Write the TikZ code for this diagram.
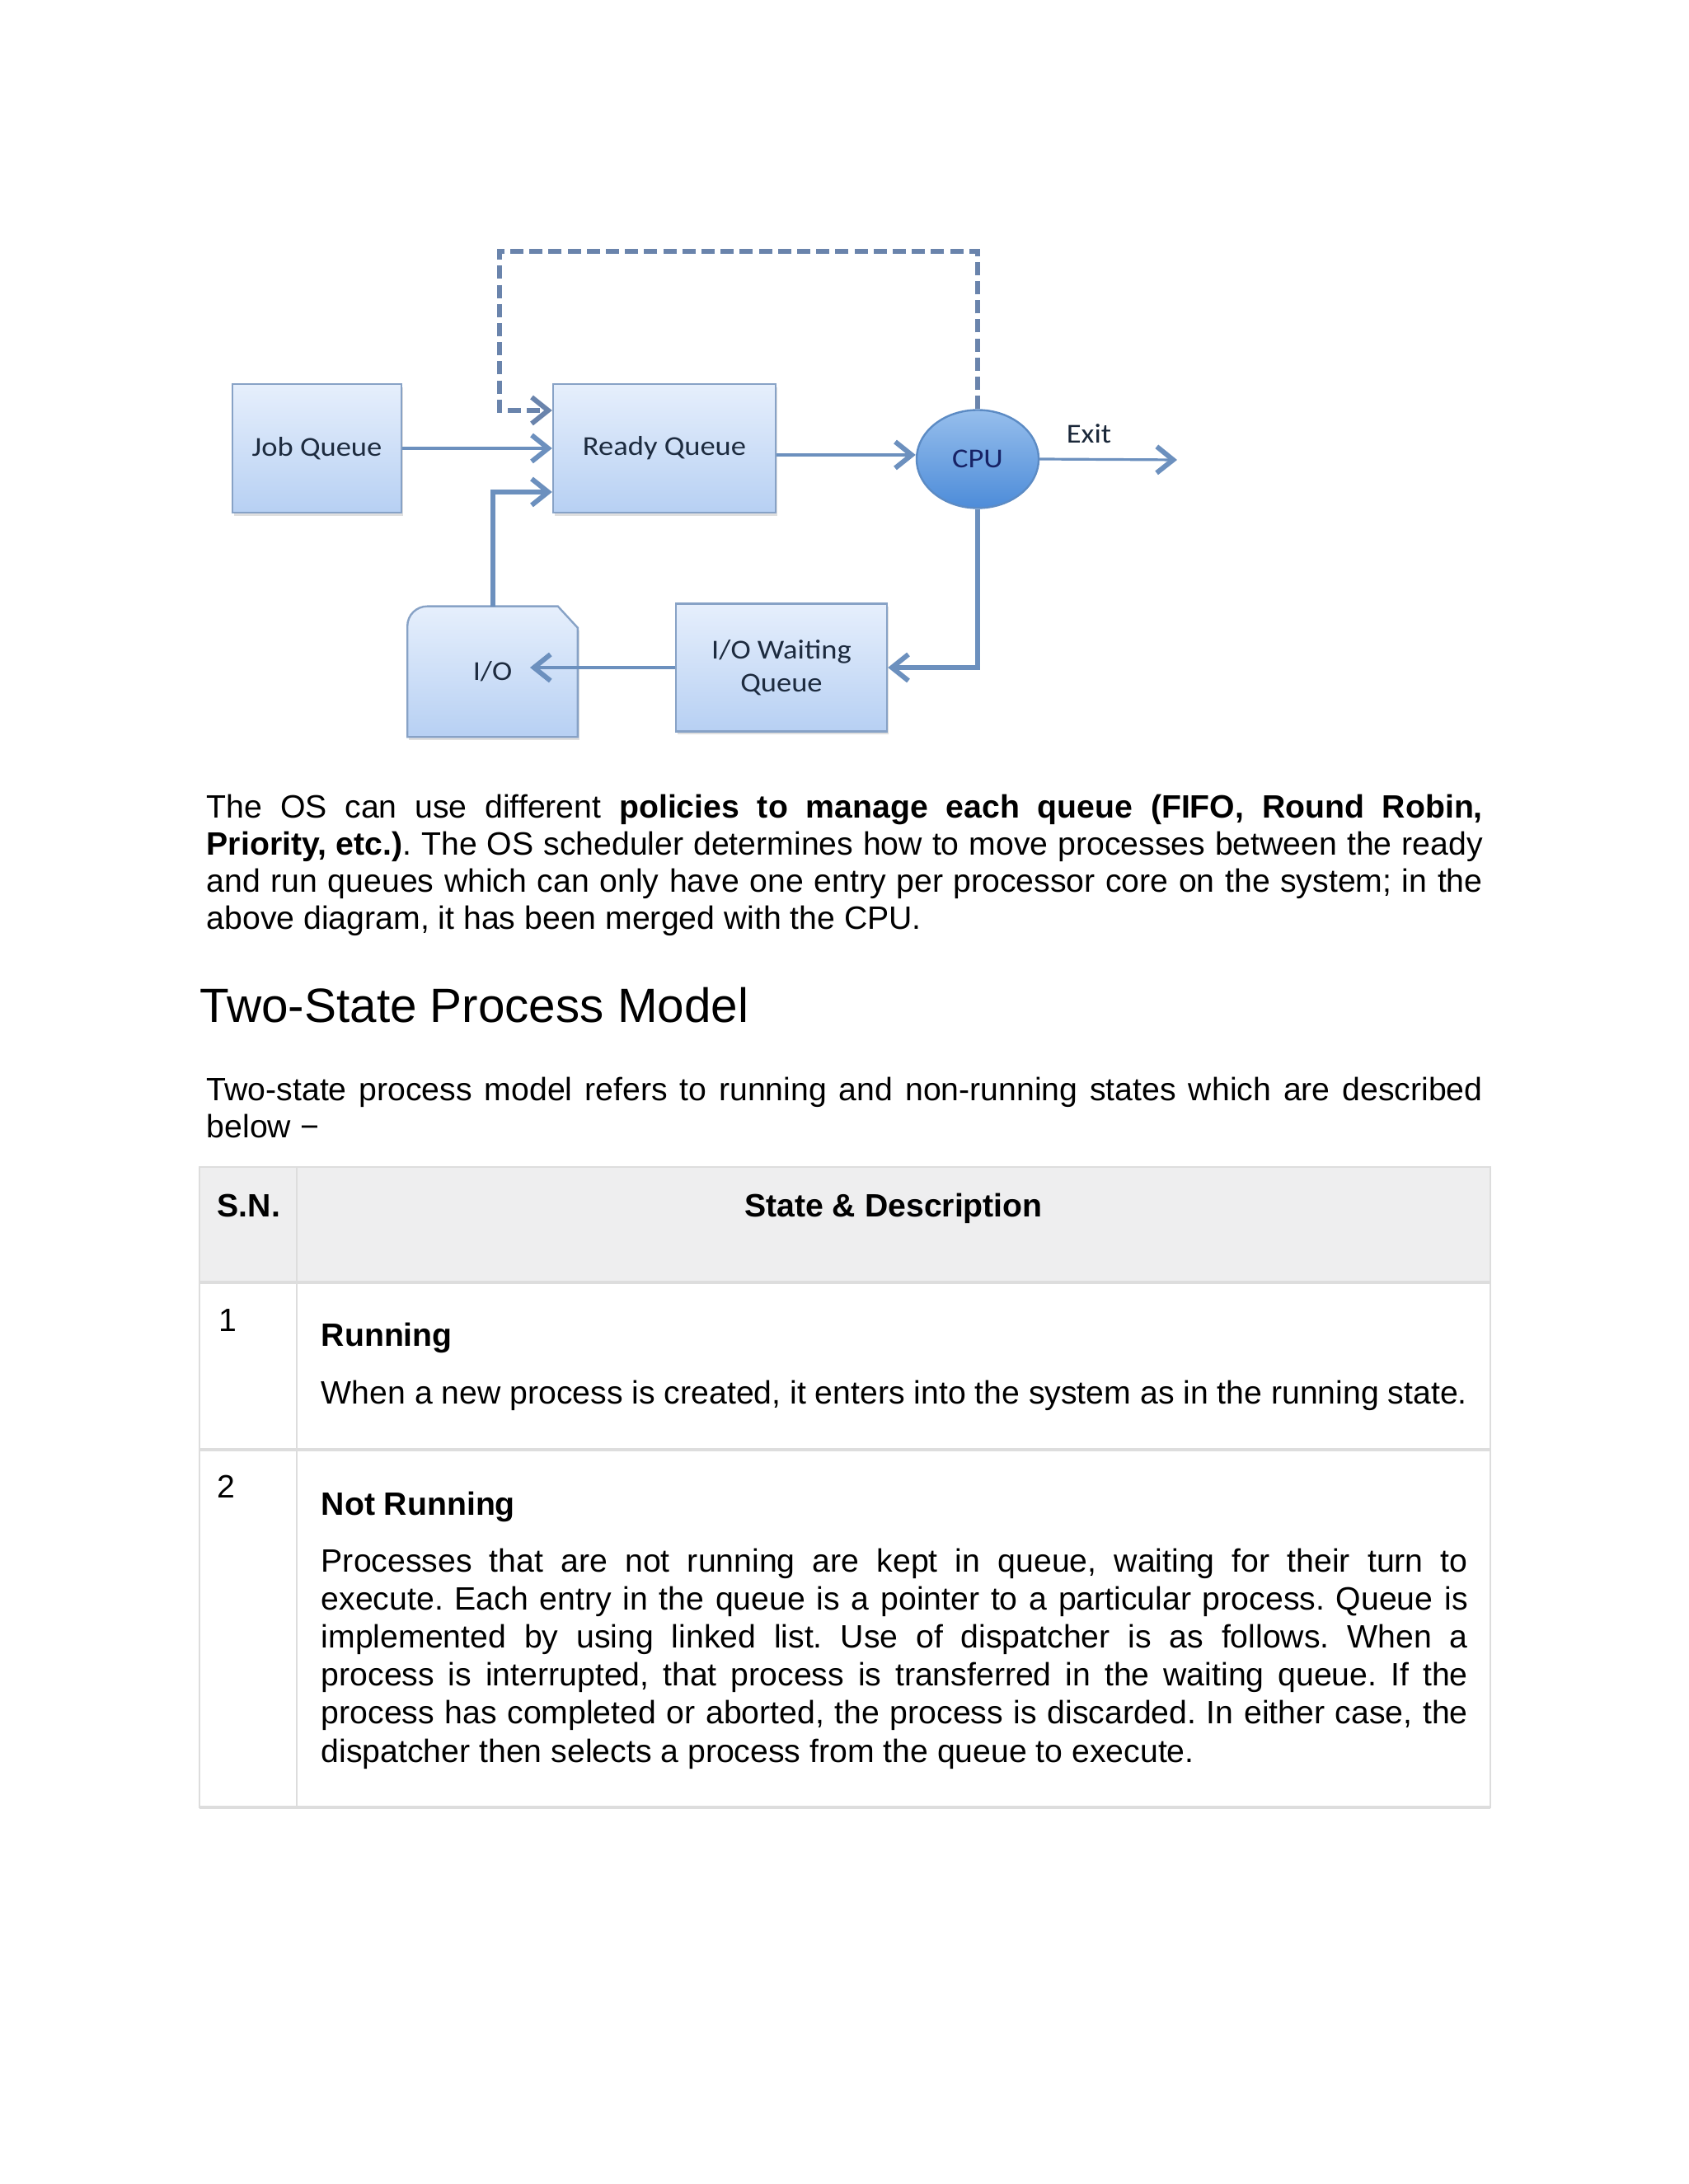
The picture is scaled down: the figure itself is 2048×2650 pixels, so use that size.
\documentclass[tikz,border=0pt]{standalone}
\usepackage{fontspec}
\setmainfont{Liberation Sans}
\newfontfamily\diagfont[FakeStretch=1.1]{Carlito}
\usetikzlibrary{arrows.meta,shapes.geometric,shadows,calc,backgrounds}
\definecolor{flow}{HTML}{6C90BE}
\definecolor{flowdash}{HTML}{6A84AC}
\definecolor{boxtop}{HTML}{E6EFFC}
\definecolor{boxbot}{HTML}{B7D0F3}
\definecolor{boxline}{HTML}{87A2C6}
\definecolor{boxtext}{HTML}{1D2B3F}
\definecolor{cputop}{HTML}{96BEEC}
\definecolor{cpubot}{HTML}{4D8CD9}
\definecolor{cpuline}{HTML}{5C8BC4}
\definecolor{headfill}{HTML}{EEEEEF}
\definecolor{rule}{HTML}{DDDDDD}
\hyphenpenalty=10000
\exhyphenpenalty=10000
\frenchspacing

\begin{document}
\begin{tikzpicture}[x=0.25pt,y=-0.25pt,
		qbox/.style={rectangle, draw=boxline, line width=0.6pt, top color=boxtop, bottom color=boxbot,
			font=\diagfont\fontsize{8.3}{10}\selectfont, text=boxtext, align=center, inner sep=0pt,
			drop shadow={shadow xshift=0.5pt, shadow yshift=-0.9pt, opacity=0.25}},
		cpunode/.style={ellipse, draw=cpuline, line width=0.6pt, top color=cputop, bottom color=cpubot,
			font=\diagfont\fontsize{8.3}{10}\selectfont, text=boxtext!80!blue, inner sep=0pt,
			minimum width=37pt, minimum height=29.75pt},
		flowtip/.tip={Straight Barb[length=5pt,width=8pt,line width=1.5pt]},
		thin/.style={draw=flow, line width=0.8pt, -flowtip},
		thick/.style={draw=flow, line width=1.5pt, -flowtip},
		loop/.style={draw=flowdash, line width=1.3pt, dash pattern=on 4pt off 1.8pt, -flowtip},
		body/.style={inner sep=0pt, text=black, font=\fontsize{9.8}{11.25}\selectfont},
		cell/.style={inner sep=0pt, text=black, font=\fontsize{9.8}{11.55}\selectfont}
	]
	\useasboundingbox (0,0) rectangle (2048,2650);

	% scheduling diagram
	\node[qbox, minimum width=51.25pt, minimum height=39pt] (job) at (384.5,544) {Job Queue};
	\node[qbox, minimum width=67.5pt, minimum height=39pt] (ready) at (806,544) {Ready Queue};
	\node[cpunode] (cpu) at (1186,557) {CPU};
	\node[qbox, minimum width=64pt, minimum height=38.75pt] (iowait) at (948,810) {I/O Waiting\\Queue};
	\node[inner sep=0pt, minimum width=51.25pt, minimum height=39.25pt,
		font=\diagfont\fontsize{8.3}{10}\selectfont, text=boxtext] (io) at (597.5,815) {I/O};
	\begin{scope}[on background layer]
		\shade[top color=boxtop, bottom color=boxbot, draw=boxline, line width=0.6pt,
			drop shadow={shadow xshift=0.5pt, shadow yshift=-0.9pt, opacity=0.25}]
			(io.south west) [rounded corners=6pt] -- (io.north west) [sharp corners]
			-- ($(io.north east)+(-24,0)$) -- ($(io.north east)+(0,26)$) -- (io.south east) -- cycle;
	\end{scope}
	\node[font=\diagfont\fontsize{8.3}{10}\selectfont, text=boxtext!90!black, inner sep=0pt, anchor=base] (exitlabel) at (1321,538) {Exit};

	\coordinate (exitend) at (1428,558);
	\coordinate (loopcorner) at (606,305);
	\coordinate (readyloop) at ($(ready.west)+(0,-46)$);
	\coordinate (readyio) at ($(ready.west)+(0,53)$);
	\coordinate (ioin) at (643,810);

	\path (job) edge[thin] (ready)
		([yshift=-2pt]ready.east) edge[thin] ([yshift=-2pt]ready.east -| cpu.west)
		(cpu.east) edge[thin] (exitend);
	\draw[loop] (cpu.north) |- (loopcorner) |- (readyloop);
	\draw[thick] (io.north) |- (readyio);
	\draw[thick] (cpu.south) |- (iowait.east);
	\draw[draw=flow, line width=1.1pt, -flowtip] (iowait.west) -- (ioin);

	% text
	\node[body, anchor=base west, text width=387pt, align=justify] (intro) at (250,992)
		{The OS can use different \textbf{policies to manage each queue (FIFO, Round Robin,\linebreak Priority, etc.)}. The OS scheduler determines how to move processes between the ready\linebreak and run queues which can only have one entry per processor core on the system; in the\linebreak above diagram, it has been merged with the CPU.};
	\node[inner sep=0pt, text=black, font=\fontsize{14.6}{17}\selectfont, anchor=base west] (heading) at (242,1240)
		{Two-State Process Model};
	\node[body, anchor=base west, text width=387pt, align=justify] (lead) at (250,1335)
		{Two-state process model refers to running and non-running states which are described\linebreak below −};

	% table
	\fill[headfill] (242,1416) rectangle (1808,1556);
	\draw[rule, line width=0.5pt] (242,1416) rectangle (1808,2193);
	\draw[rule, line width=0.5pt] (360,1416) -- (360,2193);
	\draw[rule, line width=0.8pt] (242,1556) -- (1808,1556);
	\draw[rule, line width=0.8pt] (242,1759) -- (1808,1759);
	\draw[rule, line width=0.8pt] (242,2193) -- (1808,2193);

	\node[cell, anchor=base west] (snhead) at (263,1476) {\bfseries S.N.};
	\node[cell, anchor=base] (statehead) at (1084,1476) {\bfseries State \& Description};
	\node[cell, anchor=base west] (sn1) at (265,1615) {1};
	\node[cell, anchor=base west] (running) at (389,1633) {\bfseries Running};
	\node[cell, anchor=base west] (runningtext) at (389,1703)
		{When a new process is created, it enters into the system as in the running state.};
	\node[cell, anchor=base west] (sn2) at (263,1817) {2};
	\node[cell, anchor=base west] (notrunning) at (389,1838) {\bfseries Not Running};
	\node[cell, anchor=base west, text width=347.75pt, align=justify] (notrunningtext) at (389,1907)
		{Processes that are not running are kept in queue, waiting for their turn to\linebreak execute. Each entry in the queue is a pointer to a particular process. Queue is\linebreak implemented by using linked list. Use of dispatcher is as follows. When a\linebreak process is interrupted, that process is transferred in the waiting queue. If the\linebreak process has completed or aborted, the process is discarded. In either case, the\linebreak dispatcher then selects a process from the queue to execute.};
\end{tikzpicture}
\end{document}
